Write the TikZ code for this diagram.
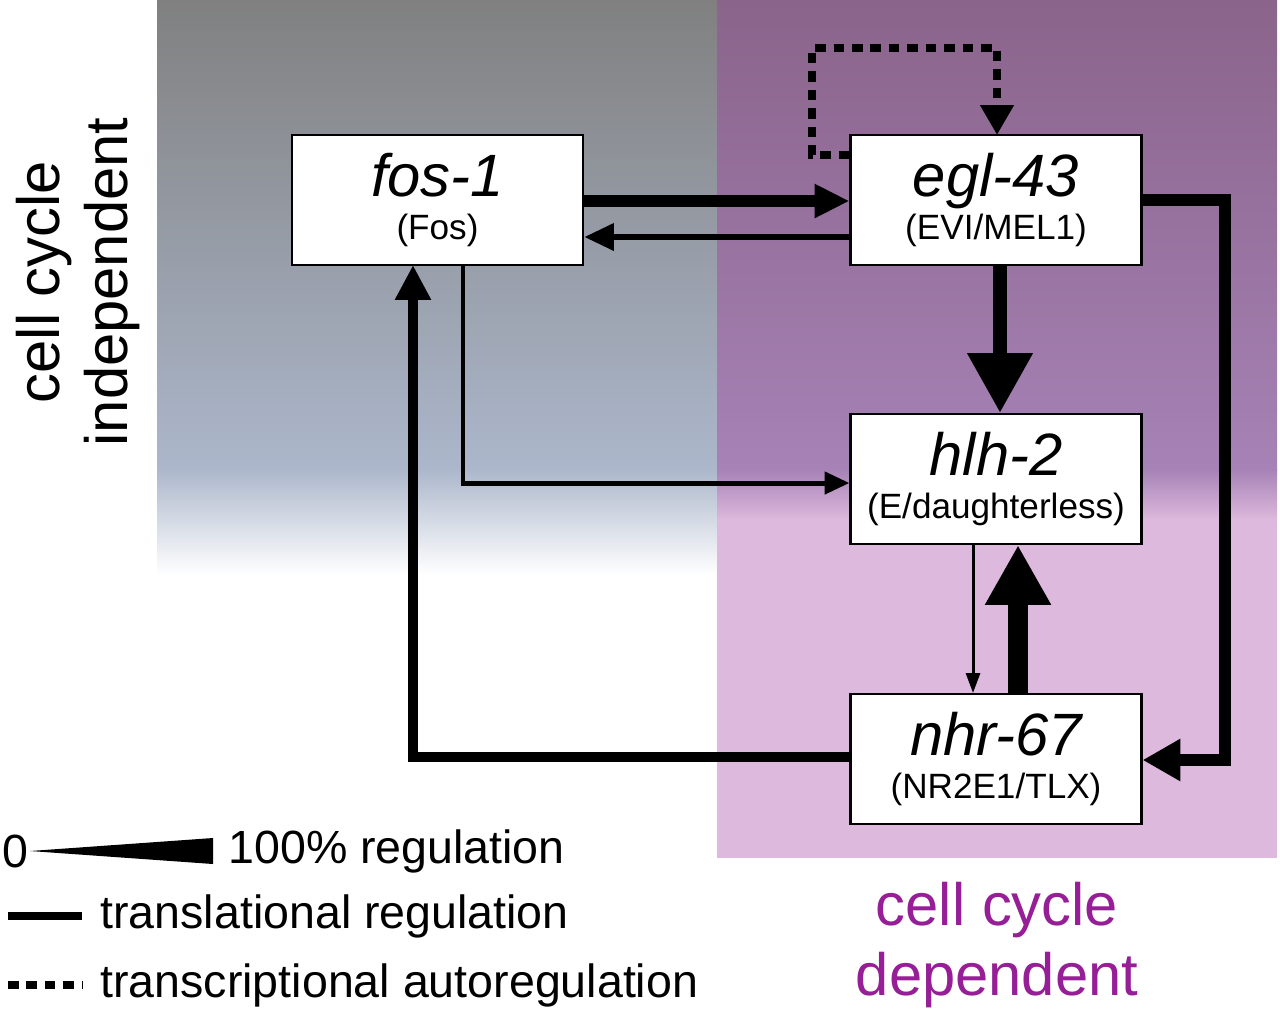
\documentclass[tikz,border=0pt]{standalone}
\usepackage{fontspec}
\setmainfont{Liberation Sans}
\usetikzlibrary{arrows.meta}
\definecolor{gtop}{RGB}{128,128,128}
\definecolor{gmid}{RGB}{172,183,203}
\definecolor{ptop}{RGB}{138,100,138}
\definecolor{pmid}{RGB}{166,130,182}
\definecolor{ppink}{RGB}{221,185,221}
\definecolor{dep}{RGB}{150,30,150}
\newcommand{\gname}[2]{{\fontsize{34}{25}\selectfont\itshape #1}\\{\fontsize{20}{25}\selectfont #2}}
\begin{document}
\begin{tikzpicture}[x=0.02cm,y=-0.02cm,
  gbox/.style={draw,line width=1.2pt,fill=white,minimum width=291*0.02cm,minimum height=130*0.02cm,align=center,inner sep=0pt,font=\fontsize{20}{25}\selectfont},
  ar/.style n args={3}{line width=#1*0.567pt,-{Triangle[length=#2*0.567pt,width=#3*0.567pt]}},
  dots/.style={line width=8*0.567pt,dash pattern=on 6pt off 4.5pt},
  lg/.style={anchor=west,inner sep=0pt,font=\fontsize{26.5}{28}\selectfont}]
\useasboundingbox (0,0) rectangle (1280,1015);
% backgrounds
\shade[top color=gtop,bottom color=gmid] (157,0) rectangle (717,470);
\shade[top color=gmid,bottom color=white] (157,469) rectangle (717,575);
\shade[top color=ptop,bottom color=pmid] (717,0) rectangle (1277,470);
\shade[top color=pmid,bottom color=ppink] (717,469) rectangle (1277,520);
\fill[ppink] (717,519) rectangle (1277,858);
% boxes
\node[gbox] (fos) at (437.5,200) {\gname{fos-1}{(Fos)}};
\node[gbox] (egl) at (996,200) {\gname{egl-43}{(EVI/MEL1)}};
\node[gbox] (hlh) at (996,479) {\gname{hlh-2}{(E/daughterless)}};
\node[gbox] (nhr) at (996,759) {\gname{nhr-67}{(NR2E1/TLX)}};
% arrows
\draw[ar={12}{35}{32}] (fos.east|-0,201) -- (egl.west|-0,201);
\draw[ar={7}{30}{26}] (egl.west|-0,237) -- (fos.east|-0,237);
\draw[dots,-{Triangle[length=30*0.567pt,width=32*0.567pt]}]
  (egl.west|-0,155) -- (812,155) -- (812,48) -- (997,48) -- (997,135);
\draw[ar={14}{60}{62}] (1000,265) -- (1000,413);
\draw[ar={5}{25}{22}] (463,265) -- (463,483) -- (hlh.west|-0,483);
\draw[ar={3}{20}{14}] (973,545) -- (973,693);
\draw[ar={20}{60}{62}] (1018,693) -- (1018,545);
\draw[ar={12}{38}{40}] (egl.east|-0,200) -- (1225,200) -- (1225,760) -- (nhr.east|-0,760);
\draw[ar={10}{35}{34}] (nhr.west|-0,757) -- (413,757) -- (413,265);
% legend
\fill (30,851) -- (213,838) -- (213,864) -- cycle;
\node[lg] (l0) at (2,851) {0};
\node[lg] (l1) at (228,851) {100\% regulation};
\draw[line width=8*0.567pt] (8,916) -- (82,916);
\node[lg] (l2) at (100,916) {translational regulation};
\draw[dots] (8,985) -- (82,985);
\node[lg] (l3) at (100,985) {transcriptional autoregulation};
\node[rotate=90,align=center,font=\fontsize{34}{39}\selectfont] (ind) at (78,282) {cell cycle\\independent};
\node[align=center,text=dep,font=\fontsize{34}{40}\selectfont] (dp) at (997,945) {cell cycle\\dependent};
\end{tikzpicture}
\end{document}
